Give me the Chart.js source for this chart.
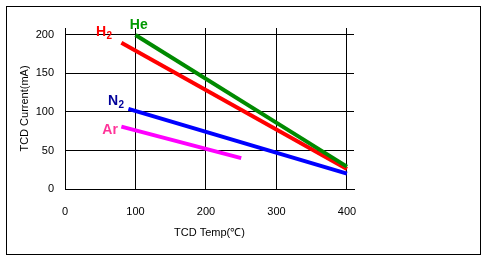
<!DOCTYPE html>
<html><head><meta charset="utf-8">
<script src="https://cdn.jsdelivr.net/npm/chart.js@4/dist/chart.umd.min.js"></script>
<style>html,body{margin:0;padding:0;background:#fff}#wrap{width:487px;height:259px;position:relative}</style>
</head><body><div id="wrap"><canvas id="c"></canvas></div>
<script>
const xTicks = [0, 100, 200, 300, 400];
const yTicks = [0, 50, 100, 150, 200];
const seriesNames = ['He', 'H2', 'N2', 'Ar'];
const heX = [100, 400], heY = [200, 29];
const h2X = [80, 400], h2Y = [190, 26];
const n2X = [90, 400], n2Y = [104, 20];
const arX = [80, 250], arY = [81, 40];
// label anchors (data coords) and text
const labelText = ['He', 'H', 'N', 'Ar'];
const labelSub = ['', '2', '2', ''];
const labelX = [92, 44, 61, 53];
const labelY = [208, 199, 109, 71];

const lineColors = ['#008a00', '#ff0000', '#0000ff', '#ff00ff'];
const labelColors = ['#009900', '#ff0000', '#000099', '#ff3399'];

function pts(xs, ys){ return xs.map((x,i)=>({x:x, y:ys[i]})); }

const frame = {
  id:'frame',
  beforeDraw(chart){
    const ctx = chart.ctx;
    ctx.save();
    ctx.fillStyle = '#fff';
    ctx.fillRect(0,0,chart.width,chart.height);
    ctx.strokeStyle = '#000';
    ctx.lineWidth = 1;
    ctx.strokeRect(6.5, 6.5, 474, 248);
    ctx.restore();
  },
  afterDatasetsDraw(chart){
    const ctx = chart.ctx, xs = chart.scales.x, ys = chart.scales.y;
    ctx.save();
    ctx.textBaseline = 'alphabetic';
    for (let i=0;i<labelText.length;i++){
      const px = xs.getPixelForValue(labelX[i]);
      const py = ys.getPixelForValue(labelY[i]);
      ctx.fillStyle = labelColors[i];
      ctx.font = 'bold 14px "Liberation Sans", Arial, sans-serif';
      ctx.fillText(labelText[i], px, py);
      if (labelSub[i]) {
        const w = ctx.measureText(labelText[i]).width;
        ctx.font = 'bold 10px "Liberation Sans", Arial, sans-serif';
        ctx.fillText(labelSub[i], px + w + 0.5, py + 3);
      }
    }
    ctx.restore();
  }
};

const tickFont = {family:'"Liberation Sans", Arial, sans-serif', size:11};

new Chart(document.getElementById('c'), {
  type:'line',
  data:{
    datasets:[
      {label:seriesNames[0], data:pts(heX,heY), borderColor:lineColors[0], borderWidth:4, pointRadius:0, fill:false},
      {label:seriesNames[1], data:pts(h2X,h2Y), borderColor:lineColors[1], borderWidth:4, pointRadius:0, fill:false},
      {label:seriesNames[2], data:pts(n2X,n2Y), borderColor:lineColors[2], borderWidth:4, pointRadius:0, fill:false},
      {label:seriesNames[3], data:pts(arX,arY), borderColor:lineColors[3], borderWidth:4, pointRadius:0, fill:false}
    ]
  },
  options:{
    responsive:true, maintainAspectRatio:false, animation:false,
    layout:{padding:{left:14, top:28, right:133, bottom:15}},
    plugins:{legend:{display:false}, tooltip:{enabled:false}},
    scales:{
      x:{type:'linear', min:0, max:410,
        afterBuildTicks(s){ s.ticks = xTicks.map(v=>({value:v})); },
        afterFit(s){ s.height = 55; },
        grid:{color:'#000', lineWidth:1, drawTicks:false},
        border:{color:'#000', width:1},
        ticks:{color:'#000', font:tickFont, padding:16, maxRotation:0},
        title:{display:true, text:'TCD Temp(℃)', color:'#000', font:tickFont, padding:{top:10}}
      },
      y:{type:'linear', min:0, max:209,
        afterBuildTicks(s){ s.ticks = yTicks.map(v=>({value:v})); },
        afterFit(s){ s.width = 51; },
        grid:{color:'#000', lineWidth:1, drawTicks:false},
        border:{color:'#000', width:1},
        ticks:{color:'#000', font:tickFont, padding:11},
        title:{display:true, text:'TCD Current(mA)', color:'#000', font:tickFont, padding:{bottom:0}}
      }
    }
  },
  plugins:[frame]
});
</script></body></html>
